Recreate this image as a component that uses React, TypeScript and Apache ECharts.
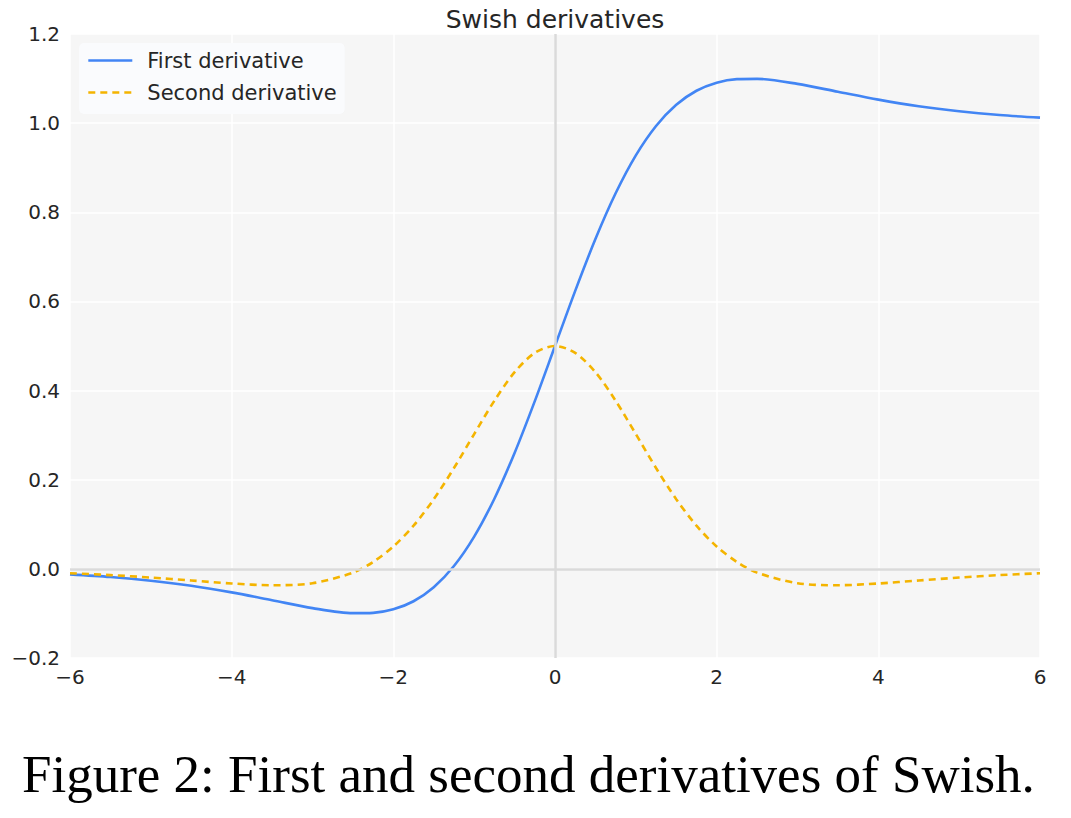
import * as echarts from "echarts";
import { useEffect, useRef } from "react";

/** x 采样点（中段加密到 0.25，曲线弯得急）。 */
const xs = [
  -6, -5.5, -5, -4.5, -4, -3.5, -3, -2.5, -2.25, -2, -1.75, -1.5, -1.25, -1, -0.75, -0.5, -0.25, 0,
  0.25, 0.5, 0.75, 1, 1.25, 1.5, 1.75, 2, 2.25, 2.5, 3, 3.5, 4, 4.5, 5, 5.5, 6,
];

/** 一阶导数读数。 */
const firstDerivative = [
  -0.0123, -0.0182, -0.0266, -0.0379, -0.0527, -0.0703, -0.0881, -0.0994, -0.0987, -0.0908, -0.0727,
  -0.0413, 0.0063, 0.0723, 0.1574, 0.26, 0.3763, 0.5, 0.6237, 0.74, 0.8426, 0.9277, 0.9937, 1.0413,
  1.0727, 1.0908, 1.0987, 1.0994, 1.0881, 1.0703, 1.0527, 1.0379, 1.0266, 1.0182, 1.0123,
];

/** 二阶导数读数。 */
const secondDerivative = [
  -0.0098, -0.014, -0.0195, -0.0261, -0.0328, -0.0368, -0.0323, -0.0085, 0.0155, 0.0501, 0.0969,
  0.1562, 0.2262, 0.3024, 0.3772, 0.4412, 0.4846, 0.5, 0.4846, 0.4412, 0.3772, 0.3024, 0.2262, 0.1562,
  0.0969, 0.0501, 0.0155, -0.0085, -0.0323, -0.0368, -0.0328, -0.0261, -0.0195, -0.014, -0.0098,
];

const SERIES_NAMES = ["First derivative", "Second derivative"];
const TITLE = "Swish derivatives";
const CAPTION = "Figure 2: First and second derivatives of Swish.";

const BLUE = "#4285f4";
const YELLOW = "#f4b400";
const FONT = "DejaVu Sans";
const LABEL_COLOR = "#262626";

/** matplotlib 风格负号（U+2212）。 */
function fmtTick(value: number, digits: number): string {
  const s = value.toFixed(digits);
  return s.startsWith("-") ? `\u2212${s.slice(1)}` : s;
}

function buildOption(): echarts.EChartsOption {
  const pairs = (ys: number[]) => xs.map((x, i) => [x, ys[i]]);
  return {
    animation: false,
    backgroundColor: "#ffffff",
    title: {
      text: TITLE,
      left: 555,
      textAlign: "center",
      top: 7,
      padding: 0,
      textStyle: { fontFamily: FONT, fontSize: 25, fontWeight: "normal", color: LABEL_COLOR },
    },
    legend: {
      orient: "vertical",
      left: 79,
      top: 43,
      padding: [7, 8, 11, 8],
      itemWidth: 44,
      itemHeight: 20,
      itemGap: 11,
      backgroundColor: "rgba(250,251,253,0.95)",
      borderRadius: 5,
      // line 系列的图例会在线中间画个圆点，这里把它藏掉，只留线
      itemStyle: { opacity: 0 },
      lineStyle: { width: 2.6 },
      textStyle: {
        fontFamily: FONT,
        fontSize: 21,
        color: LABEL_COLOR,
        lineHeight: 20,
        padding: [0, 0, 0, 10],
      },
      data: SERIES_NAMES,
    },
    grid: {
      left: 70,
      right: 31,
      top: 34,
      bottom: 160,
      show: true,
      backgroundColor: "#f6f6f6",
      borderWidth: 0,
    },
    xAxis: {
      type: "value",
      min: -6,
      max: 6,
      interval: 2,
      axisLine: { show: false },
      axisTick: { show: false },
      axisLabel: {
        margin: 9,
        fontFamily: FONT,
        fontSize: 20,
        color: LABEL_COLOR,
        formatter: (v: number) => fmtTick(v, 0),
      },
      splitLine: { show: true, lineStyle: { color: "#ffffff", width: 1.5 } },
    },
    yAxis: {
      type: "value",
      min: -0.2,
      max: 1.2,
      interval: 0.2,
      axisLine: { show: false },
      axisTick: { show: false },
      axisLabel: {
        margin: 10,
        fontFamily: FONT,
        fontSize: 20,
        color: LABEL_COLOR,
        formatter: (v: number) => fmtTick(v, 1),
      },
      splitLine: { show: true, lineStyle: { color: "#ffffff", width: 1.5 } },
    },
    graphic: [
      {
        type: "text",
        left: 22,
        top: 747,
        style: {
          text: CAPTION,
          fontFamily: "Liberation Serif",
          fontSize: 53,
          fill: "#000000",
        },
      },
    ],
    series: [
      {
        // 零线（x=0、y=0）画在曲线下面
        type: "line",
        data: [],
        z: 1,
        silent: true,
        markLine: {
          silent: true,
          symbol: "none",
          label: { show: false },
          lineStyle: { color: "#dadada", width: 2.5, type: "solid" },
          data: [{ xAxis: 0 }, { yAxis: 0 }],
        },
      },
      {
        name: SERIES_NAMES[0],
        type: "line",
        z: 3,
        data: pairs(firstDerivative),
        showSymbol: false,
        symbol: "none",
        smooth: 0.3,
        lineStyle: { color: BLUE, width: 2.6 },
        itemStyle: { color: BLUE },
      },
      {
        name: SERIES_NAMES[1],
        type: "line",
        z: 3,
        data: pairs(secondDerivative),
        showSymbol: false,
        symbol: "none",
        smooth: 0.3,
        lineStyle: { color: YELLOW, width: 2.6, type: [7, 5] },
        itemStyle: { color: YELLOW },
      },
    ],
  };
}

export default function App() {
  const chartRef = useRef<HTMLDivElement | null>(null);

  useEffect(() => {
    const el = chartRef.current;
    if (!el) {
      return undefined;
    }
    const chart = echarts.init(el, undefined, { renderer: "svg" });
    chart.setOption(buildOption());
    return () => {
      chart.dispose();
    };
  }, []);

  return (
    <div
      ref={chartRef}
      style={{ position: "absolute", left: 0, top: 0, width: 1071, height: 818 }}
    />
  );
}
